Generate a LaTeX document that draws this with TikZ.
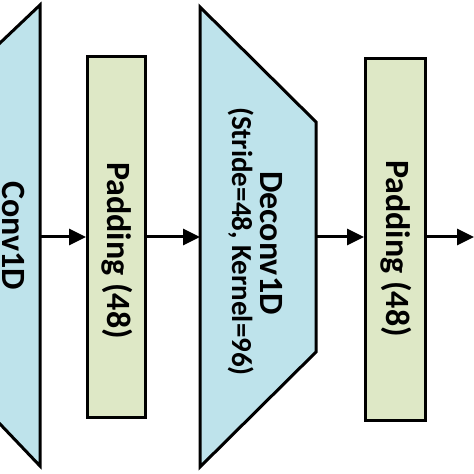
\documentclass[tikz,border=0pt]{standalone}
\usepackage{fontspec}
\setmainfont{Carlito}
\usetikzlibrary{arrows.meta}
\definecolor{convblue}{HTML}{BEE3EB}
\definecolor{padgreen}{HTML}{DEE8C6}
\tikzset{
  shapeline/.style={draw=black, line width=3pt, line join=miter},
  padbox/.style={shapeline, fill=padgreen, rectangle, inner sep=0pt},
  lbl/.style={rotate=-90, anchor=base, inner sep=0pt, font=\fontsize{34}{40}\selectfont\bfseries},
  lblsmall/.style={rotate=-90, anchor=base, inner sep=0pt, font=\fontsize{29}{34}\selectfont\bfseries},
  flow/.style={draw=black, line width=3pt, -{Triangle[length=17pt,width=16pt]}}
}
\begin{document}
\begin{tikzpicture}[x=1pt,y=1pt]
\useasboundingbox (0,0) rectangle (474,474);
% Conv1D shape (cut at left edge)
\path[shapeline, fill=convblue] (-10,421.5) -- (40,469) -- (40,8) -- (-10,60.5) -- cycle;
\node[lbl] (convt) at (2.5,238) {Conv1D};
\coordinate (convE) at (40,237);
% Padding 1
\node[padbox, minimum width=58pt, minimum height=361pt] (pad1) at (116.5,237) {};
\node[lbl] (pad1t) at (107,223.5) {Padding (48)};
% Deconv1D shape
\path[shapeline, fill=convblue] (200,467) -- (316,352) -- (316,122) -- (200,7) -- cycle;
\coordinate (decW) at (200,237);
\coordinate (decE) at (316,237);
\node[lbl] (dect) at (260,231) {Deconv1D};
\node[lblsmall] (decp) at (232,232.5) {(Stride=48, Kernel=96)};
% Padding 2
\node[padbox, minimum width=60pt, minimum height=362pt] (pad2) at (395.5,234.5) {};
\node[lbl] (pad2t) at (386,225.5) {Padding (48)};
\coordinate (outE) at (474,237);
% connectors
\draw[flow] (convE) -- (pad1.west |- convE);
\draw[flow] (pad1.east |- convE) -- (decW);
\draw[flow] (decE) -- (pad2.west |- decE);
\draw[flow] (pad2.east |- decE) -- (outE);
\end{tikzpicture}
\end{document}
